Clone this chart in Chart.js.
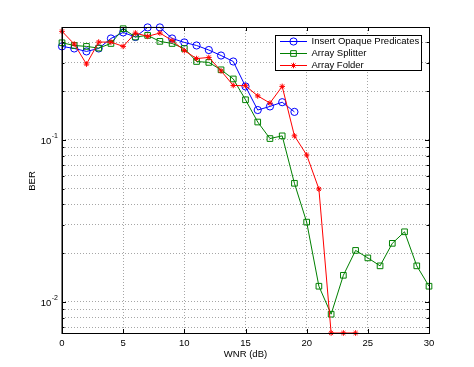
<!DOCTYPE html>
<html><head><meta charset="utf-8">
<script src="https://cdn.jsdelivr.net/npm/chart.js@4/dist/chart.umd.min.js"></script>
<style>html,body{margin:0;padding:0;background:#fff}#wrap{width:474px;height:367px}</style>
</head><body><div id="wrap"><canvas id="c" width="474" height="367"></canvas></div>
<script>
// ---- data ----
const seriesNames = ['Insert Opaque Predicates', 'Array Splitter', 'Array Folder'];
const wnrBlue  = [0,1,2,3,4,5,6,7,8,9,10,11,12,13,14,15,16,17,18,19];
const berBlue  = [0.378,0.367,0.352,0.367,0.423,0.461,0.432,0.495,0.495,0.423,0.400,0.383,0.359,0.332,0.305,0.214,0.153,0.161,0.171,0.149];
const wnrGreen = [0,1,2,3,4,5,6,7,8,9,10,11,12,13,14,15,16,17,18,19,20,21,22,23,24,25,26,27,28,29,30];
const berGreen = [0.398,0.383,0.378,0.369,0.394,0.486,0.432,0.442,0.406,0.394,0.367,0.305,0.301,0.271,0.238,0.177,0.129,0.102,0.106,0.054,0.0311,0.0125,0.0084,0.0146,0.0208,0.0187,0.0167,0.0230,0.0271,0.0167,0.0125];
const wnrRed   = [0,1,2,3,4,5,6,7,8,9,10,11,12,13,14,15,16,17,18,19,20,21,22,23,24];
const berRed   = [0.468,0.391,0.294,0.402,0.402,0.378,0.457,0.436,0.457,0.411,0.356,0.318,0.323,0.267,0.217,0.216,0.187,0.169,0.214,0.106,0.0808,0.0498,0.00643,0.00643,0.00643];
const xTicks = [0,5,10,15,20,25,30];
const yGridValues = [0.007,0.008,0.009,0.01,0.02,0.03,0.04,0.05,0.06,0.07,0.08,0.09,0.1,0.2,0.3,0.4];
const yMajorTicks = [0.01, 0.1];
const yMajorExponents = ['-2', '-1'];
const xTitle = 'WNR (dB)';
const yTitle = 'BER';

const FONT = '"Liberation Sans", Arial, Helvetica, sans-serif';
const colors = ['#0000ff', '#008000', '#ff0000'];
const styles = ['circle', 'rect', 'star'];

function pts(xs, ys){ return xs.map((x,i)=>({x:x, y:ys[i]})); }

function drawMarker(ctx, style, x, y, r, color){
  ctx.save();
  ctx.strokeStyle = color; ctx.lineWidth = 1; ctx.setLineDash([]);
  ctx.beginPath();
  if (style === 'circle') { ctx.arc(x, y, r, 0, Math.PI*2); }
  else if (style === 'rect') { const s = Math.SQRT1_2*r; ctx.rect(x-s, y-s, 2*s, 2*s); }
  else {
    ctx.moveTo(x-r,y); ctx.lineTo(x+r,y); ctx.moveTo(x,y-r); ctx.lineTo(x,y+r);
    const d = r*Math.SQRT1_2;
    ctx.moveTo(x-d,y-d); ctx.lineTo(x+d,y+d); ctx.moveTo(x-d,y+d); ctx.lineTo(x+d,y-d);
  }
  ctx.stroke();
  ctx.restore();
}

const decor = {
  id: 'decor',
  beforeDraw(chart){
    const ctx = chart.ctx; ctx.save(); ctx.fillStyle = '#fff'; ctx.fillRect(0,0,chart.width,chart.height); ctx.restore();
  },
  afterDraw(chart){
    const ctx = chart.ctx, a = chart.chartArea, xs = chart.scales.x, ys = chart.scales.y;
    const L = Math.round(a.left), R = Math.round(a.right), T = Math.round(a.top), B = Math.round(a.bottom);
    ctx.save();
    ctx.setLineDash([]);
    ctx.strokeStyle = '#000'; ctx.lineWidth = 1;
    ctx.strokeRect(L+0.5, T+0.5, R-L, B-T);
    ctx.strokeStyle = 'rgba(0,0,0,0.5)';
    ctx.beginPath(); ctx.moveTo(L-0.5, T); ctx.lineTo(L-0.5, B+1); ctx.stroke();
    ctx.strokeStyle = '#000';
    // x ticks (inward, top and bottom)
    ctx.beginPath();
    xTicks.forEach(v => {
      const p = Math.round(xs.getPixelForValue(v)) + 0.5;
      ctx.moveTo(p, B); ctx.lineTo(p, B-4);
      ctx.moveTo(p, T); ctx.lineTo(p, T+4);
    });
    yGridValues.forEach(v => {
      const p = Math.round(ys.getPixelForValue(v)) + 0.5;
      const len = yMajorTicks.includes(v) ? 4 : 2.5;
      ctx.moveTo(L, p); ctx.lineTo(L+len, p);
      ctx.moveTo(R, p); ctx.lineTo(R-len, p);
    });
    ctx.stroke();
    // y tick labels 10^n
    ctx.fillStyle = '#000';
    ctx.textAlign = 'right'; ctx.textBaseline = 'middle';
    yMajorTicks.forEach((v,i) => {
      const p = ys.getPixelForValue(v);
      ctx.font = '7px ' + FONT;
      const ew = ctx.measureText(yMajorExponents[i]).width;
      ctx.fillText(yMajorExponents[i], 58, p - 3.5);
      ctx.font = '9.5px ' + FONT;
      ctx.fillText('10', 58 - ew - 0.5, p + 1);
    });
    // axis titles
    ctx.font = '9.5px ' + FONT;
    ctx.textAlign = 'center'; ctx.textBaseline = 'middle';
    ctx.fillText(xTitle, (a.left + a.right)/2, 354.5);
    ctx.save();
    ctx.translate(32.5, (a.top + a.bottom)/2 + 1);
    ctx.rotate(-Math.PI/2);
    ctx.fillText(yTitle, 0, 0);
    ctx.restore();
    // legend
    const bx = 275.5, by = 35.5, bw = 146, bh = 35;
    ctx.fillStyle = '#fff'; ctx.fillRect(bx, by, bw, bh);
    ctx.strokeStyle = '#000'; ctx.strokeRect(bx, by, bw, bh);
    const rows = [41, 53, 65];
    chart.data.datasets.forEach((ds, i) => {
      const yy = rows[i] + 0.5;
      ctx.strokeStyle = ds.borderColor; ctx.lineWidth = 1;
      ctx.beginPath(); ctx.moveTo(280, yy); ctx.lineTo(307, yy); ctx.stroke();
      drawMarker(ctx, ds.pointStyle, 293.5, yy, ds.pointRadius, ds.borderColor);
      ctx.fillStyle = '#000'; ctx.font = '9.5px ' + FONT;
      ctx.textAlign = 'left'; ctx.textBaseline = 'middle';
      ctx.fillText(ds.label, 311.5, rows[i] + 0.5);
    });
    ctx.restore();
  }
};

const mk = (i, xs, ys, r, ord) => ({
  label: seriesNames[i], data: pts(xs, ys),
  borderColor: colors[i], backgroundColor: colors[i],
  borderWidth: 1, tension: 0,
  pointStyle: styles[i], pointRadius: r, pointHoverRadius: r,
  pointBorderColor: colors[i], pointBackgroundColor: 'rgba(0,0,0,0)', pointBorderWidth: 1,
  clip: false, order: ord
});

new Chart(document.getElementById('c'), {
  type: 'line',
  data: { datasets: [ mk(0, wnrBlue, berBlue, 3.6, 2), mk(1, wnrGreen, berGreen, 4, 1), mk(2, wnrRed, berRed, 2.8, 0) ] },
  options: {
    responsive: false, animation: false, devicePixelRatio: 1,
    layout: { padding: { left: 0, right: 45, top: 27, bottom: 0 } },
    plugins: { legend: { display: false }, tooltip: { enabled: false } },
    scales: {
      x: {
        type: 'linear', min: 0, max: 30,
        afterBuildTicks: s => { s.ticks = xTicks.map(v => ({ value: v })); },
        afterFit: s => { s.height = 34; },
        grid: { color: 'rgba(0,0,0,0.35)', lineWidth: 1, drawTicks: false },
        border: { display: false, dash: [1, 2] },
        ticks: { color: '#000', font: { family: FONT, size: 9.5 }, padding: 5, maxRotation: 0 }
      },
      y: {
        type: 'logarithmic', min: 0.00643, max: 0.498,
        afterBuildTicks: s => { s.ticks = yGridValues.map(v => ({ value: v })); },
        afterFit: s => { s.width = 62; },
        grid: { color: 'rgba(0,0,0,0.35)', lineWidth: 1, drawTicks: false },
        border: { display: false, dash: [1, 2] },
        ticks: { display: false }
      }
    }
  },
  plugins: [decor]
});
</script>
</body></html>
